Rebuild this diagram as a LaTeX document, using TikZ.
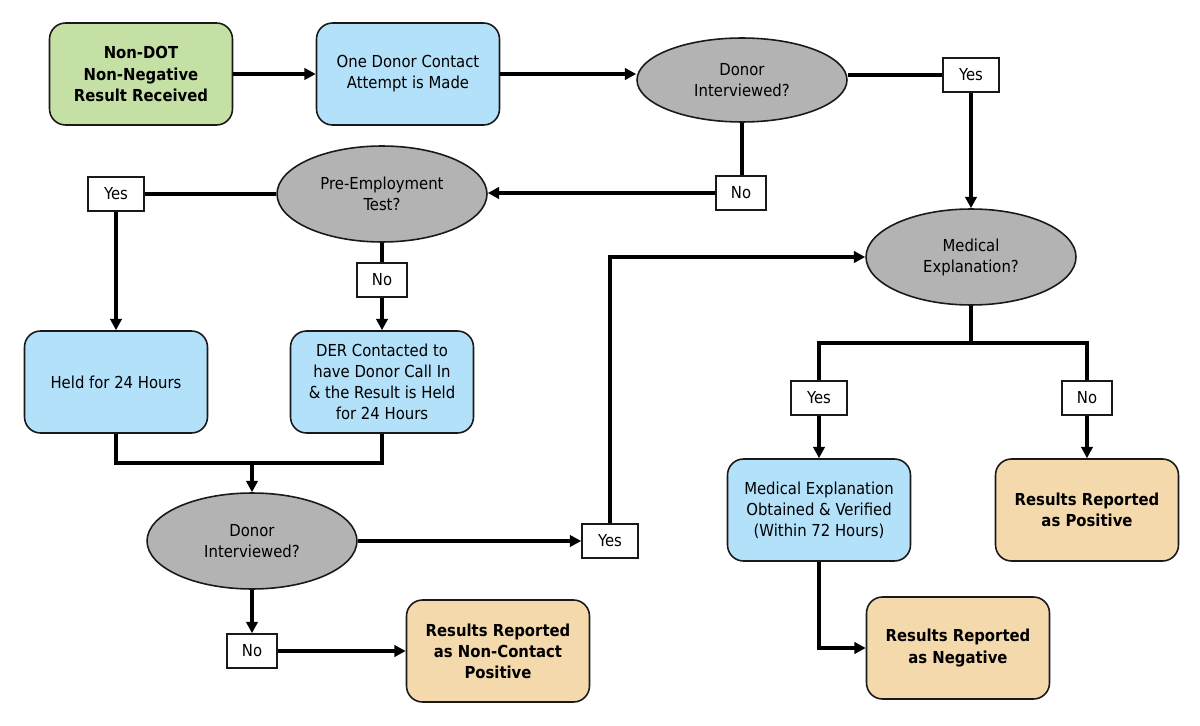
\documentclass[tikz,border=0pt]{standalone}
\usepackage{fontspec}
\setmainfont{DejaVu Sans Condensed}
\usepackage{xcolor}
\usepackage{tikz}
\usetikzlibrary{arrows.meta,shapes.geometric,calc}
\definecolor{VerdeInicio}{RGB}{197,224,165}
\definecolor{AzulPaso}{RGB}{180,225,250}
\definecolor{GrisDecision}{RGB}{179,179,179}
\definecolor{OcreFinal}{RGB}{244,217,172}
\definecolor{Borde}{RGB}{25,25,25}

\begin{document}
\begin{tikzpicture}[x=0.02cm,y=-0.02cm,
    font=\fontsize{9.4}{12}\selectfont,
    caja/.style={draw=Borde,line width=0.9pt,rounded corners=0.32cm,
      minimum width=3.66cm,minimum height=2.04cm,align=center,inner sep=2pt},
    paso/.style={caja,fill=AzulPaso},
    final/.style={caja,fill=OcreFinal,font=\fontsize{9.4}{12}\selectfont\bfseries},
    pregunta/.style={ellipse,draw=Borde,line width=0.9pt,fill=GrisDecision,
      minimum width=4.2cm,minimum height=1.92cm,inner sep=0pt,align=center},
    resp/.style={draw=Borde,line width=0.9pt,fill=white,
      minimum width=1cm,minimum height=0.68cm,inner sep=1pt},
    linea/.style={line width=2.1pt},
    flecha/.style={linea,-{Triangle[length=6.5pt,width=6.5pt]}}]
  \useasboundingbox (0,0) rectangle (1200,726);

  % Fila superior
  \node[caja,fill=VerdeInicio,font=\fontsize{9.4}{12}\selectfont\bfseries] (ini) at (141,74)
    {Non-DOT\\Non-Negative\\Result Received};
  \node[paso] (con) at (408,74) {One Donor Contact\\Attempt is Made};
  \node[pregunta,minimum height=1.68cm] (ent1) at (742,80) {Donor\\Interviewed?};
  \node[resp,minimum width=1.12cm] (si1) at (971,75) {Yes};
  \node[resp] (no1) at (741,193) {No};

  % Rama sin entrevista
  \node[pregunta] (pre) at (382,194) {Pre-Employment\\Test?};
  \node[resp,minimum width=1.12cm] (si2) at (116,194) {Yes};
  \node[resp] (no2) at (382,280) {No};
  \node[paso] (ret) at (116,382) {Held for 24 Hours};
  \node[paso] (der) at (382,382) {DER Contacted to\\have Donor Call In\\\& the Result is Held\\for 24 Hours};
  \coordinate (U) at (252,463);
  \node[pregunta] (ent2) at (252,541) {Donor\\Interviewed?};
  \node[resp,minimum width=1.12cm] (si3) at (610,541) {Yes};
  \node[resp] (no3) at (252,651) {No};
  \node[final] (fin1) at (498,651) {Results Reported\\as Non-Contact\\Positive};

  % Rama de explicación médica
  \node[pregunta] (med) at (971,257) {Medical\\Explanation?};
  \coordinate (R) at (971,343);
  \node[resp,minimum width=1.12cm] (si4) at (819,398) {Yes};
  \node[resp] (no4) at (1087,398) {No};
  \node[paso] (obt) at (819,510) {Medical Explanation\\Obtained \& Verified\\(Within 72 Hours)};
  \node[final] (pos) at (1087,510) {Results Reported\\as Positive};
  \node[final] (neg) at (958,648) {Results Reported\\as Negative};

  % Conectores
  \draw[flecha] (ini) -- (con);
  \draw[flecha] (con.east) -- (con.east -| ent1.west);
  \draw[linea] (si1.west -| ent1.east) -- (si1.west);
  \draw[flecha] (si1.south) -- (med.north);
  \draw[linea] (ent1.south) -- (ent1.south |- no1.north);
  \draw[flecha] (no1.west) -- (no1.west -| pre.east);
  \draw[linea] (pre.west) -- (si2.east);
  \draw[flecha] (si2.south) -- (ret.north);
  \draw[linea] (pre.south) -- (no2.north);
  \draw[flecha] (no2.south) -- (der.north);
  \draw[linea] (ret.south) |- (U) -| (der.south);
  \draw[flecha] (U) -- (ent2.north);
  \draw[flecha] (ent2.east) -- (si3.west);
  \draw[flecha] (si3.north) |- (med.west);
  \draw[flecha] (ent2.south) -- (no3.north);
  \draw[flecha] (no3.east) -- (fin1.west);
  \draw[linea] (med.south) -- (R);
  \draw[linea] (si4.north) |- (R) -| (no4.north);
  \draw[flecha] (si4.south) -- (obt.north);
  \draw[flecha] (no4.south) -- (pos.north);
  \draw[flecha] (obt.south) |- (neg.west);
\end{tikzpicture}
\end{document}
